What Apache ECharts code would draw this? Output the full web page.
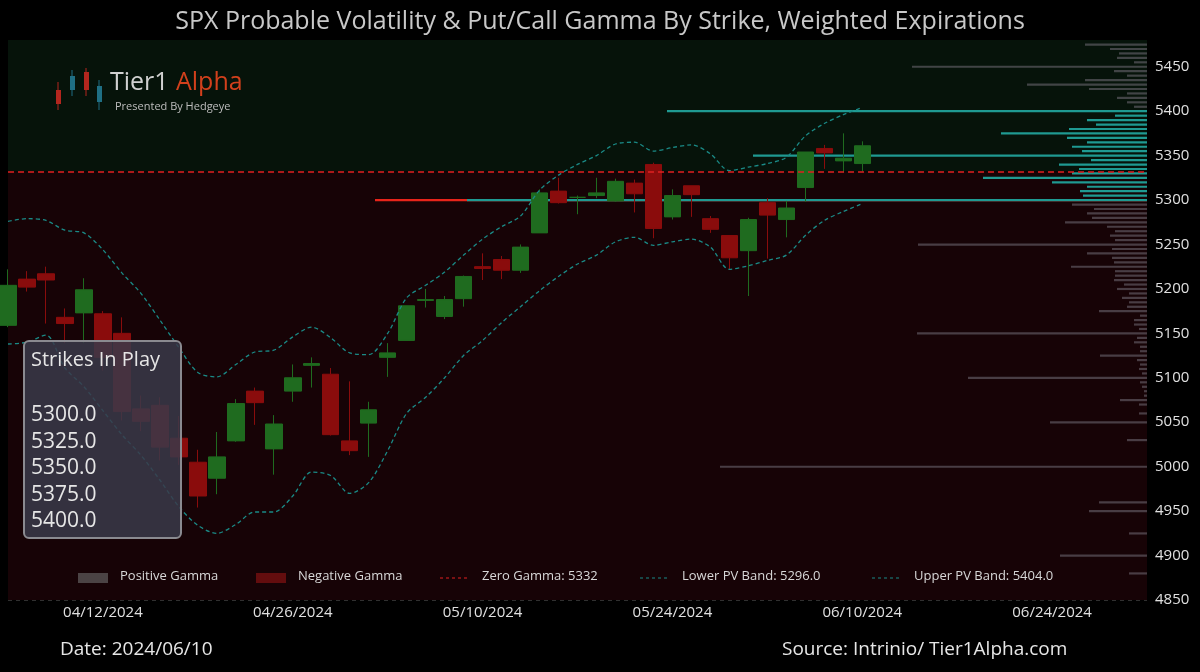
<!DOCTYPE html>
<html>
<head>
  <meta charset="utf-8">
  <title>SPX Probable Volatility</title>
  <script src="https://cdn.jsdelivr.net/npm/echarts@6/dist/echarts.min.js"></script>
  <style>body{margin:0;background:#000}</style>
</head>
<body>
  <div id="main" style="width:1200px;height:672px;"></div>
  <script type="text/javascript">
    // trading days (incl. forward dates on the axis)
    var dates = ['04/05','04/08','04/09','04/10','04/11','04/12','04/15','04/16','04/17','04/18','04/19','04/22','04/23','04/24','04/25','04/26','04/29','04/30',
      '05/01','05/02','05/03','05/06','05/07','05/08','05/09','05/10','05/13','05/14','05/15','05/16','05/17','05/20','05/21','05/22','05/23','05/24','05/28','05/29','05/30','05/31',
      '06/03','06/04','06/05','06/06','06/07','06/10','06/11','06/12','06/13','06/14','06/17','06/18','06/19','06/20','06/21','06/24','06/25','06/26','06/27','06/28','07/01'];
    // [open, close, low, high]
    var ohlc = [
      [5159,5204,5157,5222],[5211,5202,5197,5220],[5217,5210,5161,5225],[5168,5161,5139,5178],[5173,5199,5139,5212],
      [5172,5123,5108,5175],[5150,5062,5052,5168],[5065,5051,5040,5080],[5069,5022,5007,5078],[5032,5011,5002,5057],
      [5005,4967,4954,5019],[4987,5011,4969,5039],[5029,5071,5028,5076],[5085,5072,5047,5089],[5020,5048,4991,5058],
      [5085,5100,5073,5115],[5114,5116,5089,5123],[5104,5036,5035,5111],[5029,5018,5013,5096],[5049,5064,5011,5073],
      [5123,5128,5101,5139],[5142,5181,5142,5181],[5187,5188,5179,5200],[5169,5188,5166,5192],[5189,5214,5180,5215],
      [5225,5223,5210,5240],[5233,5221,5211,5237],[5221,5247,5218,5250],[5263,5308,5263,5312],[5310,5297,5296,5325],
      [5303,5303,5284,5305],[5305,5308,5302,5325],[5299,5321,5298,5324],[5319,5307,5286,5323],[5340,5268,5257,5342],
      [5281,5305,5278,5312],[5316,5306,5281,5316],[5279,5267,5263,5282],[5260,5235,5222,5260],[5243,5278,5192,5280],
      [5297,5283,5234,5302],[5278,5291,5258,5299],[5314,5354,5298,5354],[5358,5353,5335,5362],[5344,5347,5331,5375],
      [5341,5361,5332,5366]
    ];
    var upperBand = [5276,5279,5277,5266,5263,5244,5218,5195,5165,5134,5106,5101,5115,5129,5131,5146,5157,5145,5128,5126,
      5150,5190,5204,5219,5238,5256,5270,5282,5311,5328,5340,5350,5363,5365,5355,5359,5362,5352,5333,5337,5341,5348,5372,5386,5396,5404];
    var lowerBand = [5138,5140,5148,5111,5090,5063,5036,5013,4985,4955,4934,4925,4935,4949,4949,4967,4994,4990,4970,4982,
      5018,5060,5078,5100,5125,5142,5162,5180,5198,5214,5228,5238,5253,5258,5249,5253,5256,5247,5222,5226,5232,5238,5260,5277,5287,5296];
    var zeroGamma = 5332;
    // gamma by strike: [strike, magnitude]
    var posGamma = [[5400,480],[5395,32],[5390,60],[5385,51],[5380,78],[5375,146],[5370,80],[5365,60],[5360,75],[5355,65],
      [5350,394],[5345,56],[5340,88],[5335,68],[5330,75],[5325,164],[5320,95],[5315,60],[5310,67],[5305,64],[5300,680]];
    var negGamma = [[5475,62],[5470,37],[5465,28],[5460,30],[5455,13],[5450,235],[5445,33],[5440,20],[5435,62],[5430,120],
      [5425,58],[5420,20],[5415,30],[5410,20],[5405,13],[5295,75],[5290,53],[5285,60],[5280,55],[5275,82],[5270,40],[5265,32],
      [5260,37],[5255,32],[5250,229],[5245,35],[5240,60],[5235,35],[5230,33],[5225,76],[5220,32],[5215,32],[5210,33],[5205,23],
      [5200,30],[5195,18],[5190,25],[5185,18],[5180,20],[5175,48],[5170,7],[5165,13],[5160,13],[5155,8],[5150,230],[5145,10],
      [5140,13],[5135,7],[5130,7],[5125,47],[5120,10],[5115,7],[5110,8],[5105,5],[5100,179],[5095,7],[5090,5],[5085,3],[5080,3],
      [5075,27],[5070,8],[5060,8],[5050,97],[5030,20],[5000,427],[4960,48],[4950,58],[4925,18],[4900,87],[4880,18]];
    var redGamma = [[5300,772]];
    var strikesInPlay = ['5300.0','5325.0','5350.0','5375.0','5400.0'];

    var myChart = echarts.init(document.getElementById('main'));
    var tickIdx = [5, 15, 25, 35, 45, 55];
    var FONT = 'Open Sans';

    function gammaSeries(name, data, color) {
      return {
        name: name, type: 'custom', xAxisIndex: 1, yAxisIndex: 0, data: data, silent: true,
        renderItem: function (params, api) {
          var r = api.coord([0, api.value(0)]);
          var l = api.coord([api.value(1), api.value(0)]);
          return { type: 'rect', shape: { x: l[0], y: r[1] - 1, width: r[0] - l[0], height: 2.2 }, style: { fill: color } };
        },
        z: 3
      };
    }
    function legendItem(x, text, color, dashed) {
      var icon = dashed
        ? { type: 'line', z: 100, shape: { x1: x, y1: 578, x2: x + 30, y2: 578 }, style: { stroke: color, lineWidth: 1.2, lineDash: [3, 3] } }
        : { type: 'rect', z: 100, shape: { x: x, y: 573, width: 30, height: 10 }, style: { fill: color } };
      return [icon, { type: 'text', z: 100, x: x + 42, y: 570, style: { text: text, fill: '#d8d8d8', font: '13px ' + FONT } }];
    }

    var graphics = [
      { type: 'rect', shape: { x: 24, y: 341, width: 157, height: 197, r: 5 }, style: { fill: 'rgba(58,58,74,0.85)', stroke: '#8a8a90', lineWidth: 2 } },
      { type: 'text', x: 31, y: 350, style: { text: 'Strikes In Play', fill: '#e6e6e6', font: '20px ' + FONT } },
      { type: 'text', x: 31, y: 402, style: { text: strikesInPlay.join('\n'), fill: '#e6e6e6', font: '21px ' + FONT, lineHeight: 26.5 } },
      // logo
      { type: 'line', shape: { x1: 58, y1: 82, x2: 58, y2: 110 }, style: { stroke: '#b3261e', lineWidth: 1 } },
      { type: 'rect', shape: { x: 56, y: 90, width: 5, height: 14 }, style: { fill: '#b3261e' } },
      { type: 'line', shape: { x1: 72, y1: 70, x2: 72, y2: 96 }, style: { stroke: '#1f6f84', lineWidth: 1 } },
      { type: 'rect', shape: { x: 70, y: 76, width: 5, height: 14 }, style: { fill: '#1f6f84' } },
      { type: 'line', shape: { x1: 86, y1: 68, x2: 86, y2: 96 }, style: { stroke: '#b3261e', lineWidth: 1 } },
      { type: 'rect', shape: { x: 84, y: 72, width: 5, height: 18 }, style: { fill: '#b3261e' } },
      { type: 'line', shape: { x1: 99, y1: 80, x2: 99, y2: 110 }, style: { stroke: '#1f6f84', lineWidth: 1 } },
      { type: 'rect', shape: { x: 97, y: 86, width: 5, height: 16 }, style: { fill: '#1f6f84' } },
      { type: 'text', x: 110, y: 70, style: { text: 'Tier1', fill: '#d0d0d0', font: '25px ' + FONT } },
      { type: 'text', x: 176, y: 70, style: { text: 'Alpha', fill: '#d2401c', font: '25px ' + FONT } },
      { type: 'text', x: 115, y: 101, style: { text: 'Presented By Hedgeye', fill: '#bdbdbd', font: '11px ' + FONT } },
      // footer
      { type: 'text', x: 60, y: 640, style: { text: 'Date: 2024/06/10', fill: '#e6e6e6', font: '19px ' + FONT } },
      { type: 'text', x: 782, y: 640, style: { text: 'Source: Intrinio/ Tier1Alpha.com', fill: '#e6e6e6', font: '19px ' + FONT } }
    ].map(function (g) { g.z = 100; return g; })
     .concat(legendItem(78, 'Positive Gamma', 'rgba(110,110,110,0.6)'))
     .concat(legendItem(256, 'Negative Gamma', 'rgba(150,20,20,0.6)'))
     .concat(legendItem(440, 'Zero Gamma: 5332', '#e02020', true))
     .concat(legendItem(640, 'Lower PV Band: 5296.0', '#1a8a86', true))
     .concat(legendItem(872, 'Upper PV Band: 5404.0', '#1a8a86', true));

    myChart.setOption({
      backgroundColor: '#000',
      animation: false,
      title: { text: 'SPX Probable Volatility & Put/Call Gamma By Strike, Weighted Expirations', left: 'center', top: 4,
        textStyle: { color: '#c8c8c8', fontSize: 25, fontWeight: 'normal', fontFamily: FONT } },
      grid: { left: 8, right: 53, top: 40, bottom: 72 },
      xAxis: [{
        type: 'category', data: dates, boundaryGap: false,
        axisLine: { show: false }, axisTick: { show: false },
        axisLabel: { color: '#e0e0e0', fontSize: 15, fontFamily: FONT, margin: 5,
          interval: function (i) { return tickIdx.indexOf(i) >= 0; },
          formatter: function (v) { return v + '/2024'; } },
        splitLine: { show: true, interval: function (i) { return tickIdx.indexOf(i) >= 0; },
          lineStyle: { color: 'rgba(120,120,120,0.45)', type: [4, 4] } }
      }, {
        type: 'value', inverse: true, min: 0, max: 1139, show: false
      }],
      yAxis: {
        type: 'value', position: 'right', min: 4850, max: 5480, interval: 50, scale: true,
        axisLine: { show: false }, axisTick: { show: false },
        axisLabel: { color: '#e0e0e0', fontSize: 15, fontFamily: FONT, showMaxLabel: false, margin: 8,
          formatter: function (v) { return String(v); } },
        splitLine: { lineStyle: { color: 'rgba(120,120,120,0.4)', type: [4, 4] } }
      },
      graphic: { elements: graphics },
      series: [
        {
          type: 'candlestick', name: 'SPX', data: ohlc, barWidth: 17, z: 4,
          itemStyle: { color: '#1f6b1f', color0: '#8a0c0c', borderColor: '#1f6b1f', borderColor0: '#8a0c0c', borderWidth: 1 },
          markArea: { silent: true, z: 0, data: [
            [{ yAxis: zeroGamma, itemStyle: { color: '#06130a' } }, { yAxis: 5480 }],
            [{ yAxis: 4850, itemStyle: { color: '#170306' } }, { yAxis: zeroGamma }]
          ] },
          markLine: { silent: true, symbol: 'none', label: { show: false }, z: 6,
            lineStyle: { color: '#e02020', type: [6, 4], width: 1.5 }, data: [{ yAxis: zeroGamma }] }
        },
        { type: 'line', name: 'Upper PV Band', data: upperBand, showSymbol: false, smooth: 0.3, z: 5,
          lineStyle: { color: '#1a8a86', width: 1.3, type: [4, 3] } },
        { type: 'line', name: 'Lower PV Band', data: lowerBand, showSymbol: false, smooth: 0.3, z: 5,
          lineStyle: { color: '#1a8a86', width: 1.3, type: [4, 3] } },
        gammaSeries('Red', redGamma, '#e8241a'),
        gammaSeries('Negative Gamma', negGamma, 'rgba(115,110,120,0.55)'),
        gammaSeries('Positive Gamma', posGamma, '#1f9a92')
      ]
    });
  </script>
</body>
</html>
